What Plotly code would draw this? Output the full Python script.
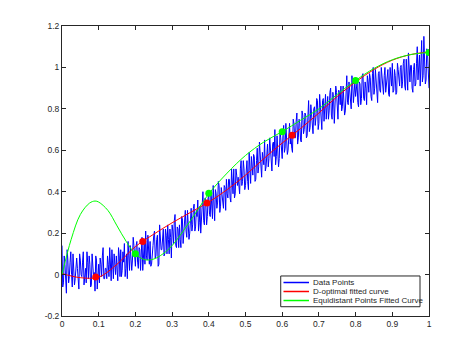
import plotly.graph_objects as go

# Noisy measured data, read at x = 0, 0.004, 0.008, ...
data_y_even = [
    0.14, -0.04, 0.05, -0.09, 0.07, -0.01, 0.11, -0.06, 0.04, -0.02,
    0.08, -0.03, 0.10, 0.00, 0.06, -0.05, 0.03, 0.11, -0.02, 0.05,
    -0.05, 0.06, 0.01, 0.09, -0.07, 0.05, 0.08, -0.01, 0.13, -0.02,
    0.03, 0.09, -0.01, 0.06, 0.12, -0.02, 0.02, 0.09, -0.03, 0.09,
    0.12, 0.02, 0.06, -0.01, 0.10, 0.16, 0.02, 0.09, 0.07, 0.14,
    0.04, 0.16, 0.03, 0.12, 0.09, 0.02, 0.15, 0.21, 0.07, 0.12,
    0.16, 0.05, 0.14, 0.21, 0.09, 0.19, 0.05, 0.17, 0.12, 0.22,
    0.10, 0.19, 0.24, 0.10, 0.18, 0.24, 0.15, 0.29, 0.13, 0.22,
    0.24, 0.13, 0.27, 0.20, 0.31, 0.18, 0.26, 0.20, 0.32, 0.24,
    0.34, 0.23, 0.28, 0.21, 0.33, 0.27, 0.40, 0.24, 0.34, 0.28,
    0.38, 0.28, 0.35, 0.43, 0.26, 0.39, 0.35, 0.43, 0.33, 0.38,
    0.32, 0.42, 0.46, 0.37, 0.46, 0.35, 0.44, 0.51, 0.39, 0.48,
    0.47, 0.39, 0.55, 0.45, 0.51, 0.43, 0.55, 0.41, 0.53, 0.57,
    0.48, 0.57, 0.46, 0.61, 0.52, 0.58, 0.47, 0.57, 0.65, 0.52,
    0.63, 0.56, 0.61, 0.50, 0.64, 0.70, 0.57, 0.62, 0.56, 0.66,
    0.56, 0.72, 0.61, 0.67, 0.60, 0.73, 0.67, 0.59, 0.73, 0.66,
    0.78, 0.66, 0.73, 0.64, 0.77, 0.70, 0.77, 0.67, 0.84, 0.71,
    0.77, 0.68, 0.81, 0.76, 0.84, 0.73, 0.81, 0.70, 0.85, 0.80,
    0.75, 0.86, 0.79, 0.90, 0.75, 0.85, 0.79, 0.88, 0.75, 0.88,
    0.91, 0.81, 0.86, 0.79, 0.96, 0.82, 0.88, 0.80, 0.92, 0.87,
    0.86, 0.93, 0.81, 0.92, 0.85, 0.97, 0.84, 0.90, 0.96, 0.88,
    0.95, 0.84, 1.00, 0.90, 0.94, 0.83, 0.98, 0.88, 0.94, 0.87,
    1.00, 0.93, 0.99, 0.86, 0.96, 1.02, 0.89, 0.96, 0.88, 0.99,
    0.91, 1.01, 0.93, 1.04, 0.89, 0.98, 1.07, 0.93, 1.01, 0.88,
    1.02, 0.92, 1.10, 0.98, 0.91, 1.13, 0.96, 1.05, 0.94, 1.07,
    0.90,
]
# Noisy measured data, read at x = 0.002, 0.006, 0.010, ...
data_y_odd = [
    -0.06, 0.09, -0.02, 0.12, -0.04, 0.06, 0.00, 0.10, -0.05, 0.08,
    0.03, -0.07, 0.07, -0.01, 0.11, 0.01, -0.04, 0.06, 0.09, -0.06,
    0.10, -0.01, -0.08, 0.07, 0.04, -0.04, 0.05, 0.09, -0.02, 0.03,
    -0.02, 0.05, 0.13, -0.03, 0.07, 0.10, 0.00, 0.04, 0.13, -0.01,
    -0.01, 0.11, 0.15, 0.03, -0.02, 0.09, 0.14, 0.02, 0.18, 0.06,
    0.14, 0.06, 0.13, 0.02, 0.18, 0.12, 0.05, 0.09, 0.19, 0.05,
    0.04, 0.14, 0.19, 0.08, 0.17, 0.04, 0.24, 0.12, 0.19, 0.09,
    0.22, 0.10, 0.17, 0.22, 0.08, 0.21, 0.26, 0.14, 0.23, 0.13,
    0.17, 0.28, 0.15, 0.26, 0.21, 0.31, 0.17, 0.30, 0.21, 0.32,
    0.21, 0.31, 0.36, 0.25, 0.20, 0.35, 0.26, 0.37, 0.24, 0.37,
    0.29, 0.40, 0.27, 0.34, 0.41, 0.32, 0.45, 0.30, 0.42, 0.33,
    0.43, 0.31, 0.39, 0.46, 0.37, 0.51, 0.39, 0.37, 0.51, 0.43,
    0.39, 0.51, 0.43, 0.55, 0.41, 0.50, 0.45, 0.59, 0.44, 0.51,
    0.58, 0.45, 0.55, 0.49, 0.64, 0.49, 0.59, 0.53, 0.50, 0.63,
    0.52, 0.66, 0.52, 0.63, 0.57, 0.53, 0.67, 0.52, 0.69, 0.59,
    0.67, 0.59, 0.73, 0.58, 0.72, 0.63, 0.61, 0.75, 0.66, 0.74,
    0.63, 0.75, 0.65, 0.79, 0.68, 0.78, 0.66, 0.76, 0.69, 0.82,
    0.69, 0.80, 0.72, 0.85, 0.70, 0.87, 0.76, 0.84, 0.74, 0.87,
    0.84, 0.75, 0.88, 0.77, 0.88, 0.73, 0.91, 0.78, 0.89, 0.82,
    0.79, 0.91, 0.77, 0.89, 0.83, 0.93, 0.80, 0.96, 0.83, 0.93,
    0.93, 0.83, 0.93, 0.82, 0.96, 0.85, 0.93, 0.82, 0.93, 0.97,
    0.86, 0.97, 0.87, 0.99, 0.85, 0.97, 0.89, 1.00, 0.87, 0.96,
    0.88, 0.98, 0.87, 1.00, 0.91, 0.88, 0.99, 0.87, 1.02, 0.91,
    1.00, 0.90, 1.02, 0.91, 1.04, 0.89, 0.94, 1.01, 0.90, 0.99,
    0.91, 1.02, 0.94, 1.06, 1.03, 0.93, 1.15, 0.92, 1.09, 0.95,
]
data_pairs = sorted(
    [(i * 0.004, v) for i, v in enumerate(data_y_even)]
    + [(0.002 + i * 0.004, v) for i, v in enumerate(data_y_odd)]
)
data_x = [p[0] for p in data_pairs]
data_y = [p[1] for p in data_pairs]

# D-optimal fitted curve
dopt_x = [0.0, 0.05, 0.1, 0.15, 0.2, 0.25, 0.3, 0.35, 0.4, 0.45, 0.5,
          0.55, 0.6, 0.65, 0.7, 0.75, 0.8, 0.85, 0.9, 0.95, 1.0]
dopt_y = [0.005, -0.015, -0.012, 0.05, 0.135, 0.195, 0.25, 0.30, 0.35, 0.41, 0.48,
          0.56, 0.635, 0.705, 0.78, 0.86, 0.93, 0.99, 1.035, 1.062, 1.075]

# Equidistant points fitted curve
equi_x = [0.0, 0.025, 0.05, 0.075, 0.09, 0.1, 0.125, 0.15, 0.175, 0.2, 0.225,
          0.25, 0.275, 0.3, 0.35, 0.4, 0.45, 0.5, 0.55, 0.6, 0.65, 0.7, 0.75,
          0.8, 0.85, 0.9, 0.95, 1.0]
equi_y = [0.0, 0.17, 0.29, 0.345, 0.355, 0.35, 0.31, 0.235, 0.16, 0.10, 0.072,
          0.075, 0.10, 0.14, 0.26, 0.39, 0.49, 0.575, 0.64, 0.69, 0.745, 0.80, 0.87,
          0.937, 0.995, 1.037, 1.062, 1.072]

# Selected design points
dopt_pts_x = [0.092, 0.22, 0.395, 0.627]
dopt_pts_y = [-0.012, 0.16, 0.345, 0.672]
equi_pts_x = [0.2, 0.4, 0.6, 0.8, 1.0]
equi_pts_y = [0.10, 0.393, 0.69, 0.937, 1.072]

x_ticks = [0, 0.1, 0.2, 0.3, 0.4, 0.5, 0.6, 0.7, 0.8, 0.9, 1]
x_tick_text = ["0", "0.1", "0.2", "0.3", "0.4", "0.5", "0.6", "0.7", "0.8", "0.9", "1"]
y_ticks = [-0.2, 0, 0.2, 0.4, 0.6, 0.8, 1.0, 1.2]
y_tick_text = ["-0.2", "0", "0.2", "0.4", "0.6", "0.8", "1", "1.2"]

legend_names = ["Data Points", "D-optimal fitted curve", "Equidistant Points Fitted Curve"]
legend_colors = ["#0000ff", "#ff0000", "#00ff00"]

FONT = "Liberation Sans, Arial, Helvetica"
AX = "#262626"

fig = go.Figure()
fig.add_trace(go.Scatter(x=data_x, y=data_y, mode="lines", name=legend_names[0],
                         line=dict(color=legend_colors[0], width=1)))
fig.add_trace(go.Scatter(x=dopt_x, y=dopt_y, mode="lines", name=legend_names[1],
                         line=dict(color=legend_colors[1], width=1, shape="spline")))
fig.add_trace(go.Scatter(x=equi_x, y=equi_y, mode="lines", name=legend_names[2],
                         line=dict(color=legend_colors[2], width=1, shape="spline")))
fig.add_trace(go.Scatter(x=dopt_pts_x, y=dopt_pts_y, mode="markers", showlegend=False,
                         marker=dict(color="#ff0000", size=7)))
fig.add_trace(go.Scatter(x=equi_pts_x, y=equi_pts_y, mode="markers", showlegend=False,
                         marker=dict(color="#00ff00", size=7)))

axis_common = dict(showline=True, linecolor=AX, linewidth=1, mirror="ticks",
                   ticks="inside", ticklen=4, tickcolor=AX, showgrid=False,
                   zeroline=False, tickfont=dict(family=FONT, size=8.5, color=AX))

fig.update_xaxes(range=[0, 1], tickvals=x_ticks, ticktext=x_tick_text, **axis_common)
fig.update_yaxes(range=[-0.2, 1.2], tickvals=y_ticks, ticktext=y_tick_text, **axis_common)

# Compact MATLAB-style legend box
box = dict(x0=0.596, x1=0.9755, y0=0.032, y1=0.138)
row_y = [0.1155, 0.0845, 0.0534]
shapes = [dict(type="rect", xref="paper", yref="paper", **box,
               line=dict(color=AX, width=1), fillcolor="white", layer="above")]
annotations = []
for name, color, yy in zip(legend_names, legend_colors, row_y):
    shapes.append(dict(type="line", xref="paper", yref="paper", x0=0.6035, x1=0.673,
                       y0=yy, y1=yy, line=dict(color=color, width=1.5), layer="above"))
    annotations.append(dict(xref="paper", yref="paper", x=0.6775, y=yy, text=name,
                            showarrow=False, xanchor="left", yanchor="middle",
                            font=dict(family=FONT, size=8, color=AX)))

fig.update_layout(
    width=466, height=347,
    margin=dict(l=54, r=45, t=18, b=39),
    plot_bgcolor="white", paper_bgcolor="white",
    showlegend=False,
    shapes=shapes,
    annotations=annotations,
)

fig.write_html("out.html")
